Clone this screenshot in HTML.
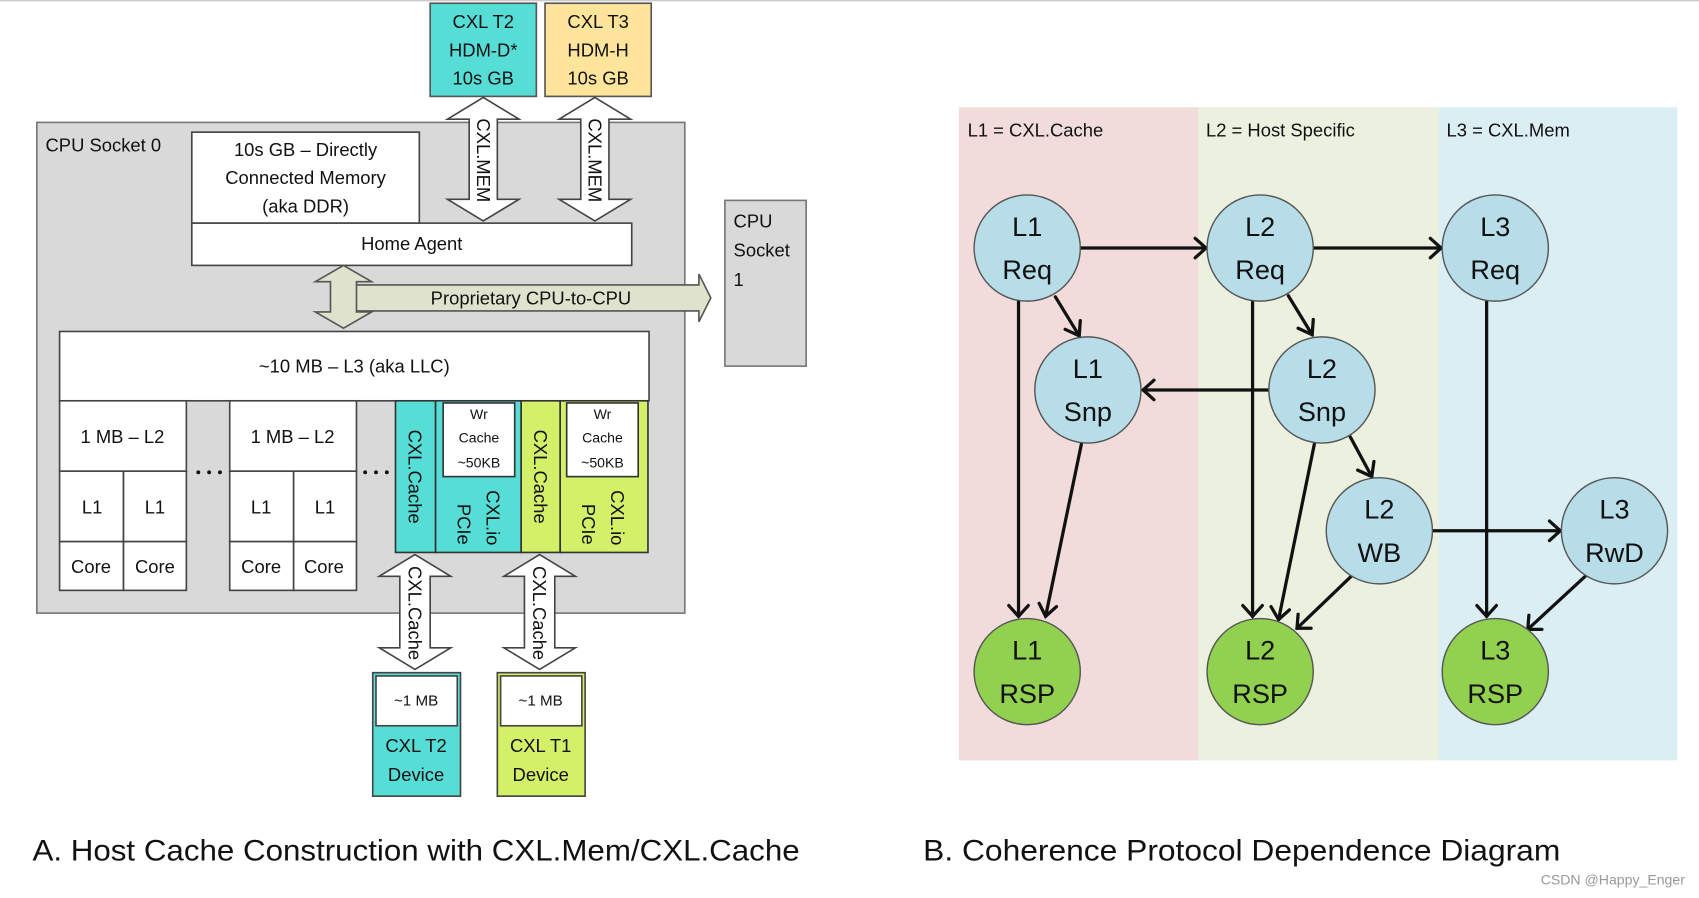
<!DOCTYPE html>
<html><head><meta charset="utf-8"><style>
html,body{margin:0;padding:0;background:#fff;width:1699px;height:898px;overflow:hidden}
svg{display:block}
text{font-family:"Liberation Sans",sans-serif;fill:#111}
</style></head><body>
<svg width="1699" height="898" viewBox="0 0 1568 829" preserveAspectRatio="none" xmlns="http://www.w3.org/2000/svg">
<line x1="0" y1="0.5" x2="1568" y2="0.5" stroke="#ccc" stroke-width="1.5"/>
<rect x="397" y="3" width="98" height="86" fill="#55ddd6" stroke="#555" stroke-width="1.5"/>
<rect x="503" y="3" width="98" height="86" fill="#ffe59c" stroke="#555" stroke-width="1.5"/>
<g font-size="17" text-anchor="middle" dominant-baseline="central">
<text x="446" y="20">CXL T2</text><text x="446" y="46">HDM-D*</text><text x="446" y="72">10s GB</text>
<text x="552" y="20">CXL T3</text><text x="552" y="46">HDM-H</text><text x="552" y="72">10s GB</text>
</g>
<rect x="34" y="113" width="598" height="453" fill="#d9d9d9" stroke="#777" stroke-width="1.5"/>
<text x="42" y="134" font-size="17" dominant-baseline="central">CPU Socket 0</text>
<rect x="177" y="122" width="210" height="84" fill="#fff" stroke="#444" stroke-width="1.5"/>
<g font-size="17" text-anchor="middle" dominant-baseline="central">
<text x="282" y="138">10s GB – Directly</text><text x="282" y="164">Connected Memory</text><text x="282" y="190">(aka DDR)</text>
</g>
<rect x="177" y="206" width="406" height="39" fill="#fff" stroke="#444" stroke-width="1.5"/>
<text x="380" y="225" font-size="17" text-anchor="middle" dominant-baseline="central">Home Agent</text>
<path d="M446 90 L479 110 L459 110 L459 184 L479 184 L446 204 L413 184 L433 184 L433 110 L413 110 Z" fill="#fff" stroke="#444" stroke-width="1.5"/>
<path d="M549 90 L582 110 L562 110 L562 184 L582 184 L549 204 L516 184 L536 184 L536 110 L516 110 Z" fill="#fff" stroke="#444" stroke-width="1.5"/>
<text transform="translate(446 148) rotate(90)" font-size="17" text-anchor="middle" dominant-baseline="central">CXL.MEM</text>
<text transform="translate(549 148) rotate(90)" font-size="17" text-anchor="middle" dominant-baseline="central">CXL.MEM</text>
<path d="M328 263 L645 263 L645 253 L656 275 L645 297 L645 287 L328 287 Z" fill="#dfe3cd" stroke="#555" stroke-width="1.5"/>
<path d="M317 245 L343 260 L329 260 L329 288 L343 288 L317 303 L291 288 L305 288 L305 260 L291 260 Z" fill="#dfe3cd" stroke="#555" stroke-width="1.5"/>
<text x="490" y="275" font-size="17" text-anchor="middle" dominant-baseline="central">Proprietary CPU-to-CPU</text>
<rect x="669" y="185" width="75" height="153" fill="#d9d9d9" stroke="#777" stroke-width="1.5"/>
<g font-size="17" dominant-baseline="central"><text x="677" y="204">CPU</text><text x="677" y="231">Socket</text><text x="677" y="258">1</text></g>
<rect x="55" y="306" width="544" height="64" fill="#fff" stroke="#444" stroke-width="1.5"/>
<text x="327" y="338" font-size="17" text-anchor="middle" dominant-baseline="central">~10 MB – L3 (aka LLC)</text>
<g fill="#fff" stroke="#444" stroke-width="1.5">
<rect x="55" y="370" width="117" height="65"/><rect x="55" y="435" width="59" height="65"/><rect x="114" y="435" width="58" height="65"/><rect x="55" y="500" width="59" height="45"/><rect x="114" y="500" width="58" height="45"/>
<rect x="212" y="370" width="117" height="65"/><rect x="212" y="435" width="59" height="65"/><rect x="271" y="435" width="58" height="65"/><rect x="212" y="500" width="59" height="45"/><rect x="271" y="500" width="58" height="45"/>
</g>
<g font-size="17" text-anchor="middle" dominant-baseline="central">
<text x="113" y="403">1 MB – L2</text><text x="85" y="468">L1</text><text x="143" y="468">L1</text><text x="84" y="523">Core</text><text x="143" y="523">Core</text>
<text x="270" y="403">1 MB – L2</text><text x="241" y="468">L1</text><text x="300" y="468">L1</text><text x="241" y="523">Core</text><text x="299" y="523">Core</text>
</g>
<g fill="#111"><circle cx="183" cy="436" r="1.8"/><circle cx="193" cy="436" r="1.8"/><circle cx="203" cy="436" r="1.8"/><circle cx="337" cy="436" r="1.8"/><circle cx="347" cy="436" r="1.8"/><circle cx="357" cy="436" r="1.8"/></g>
<g stroke="#333" stroke-width="1.5">
<rect x="365" y="370" width="37" height="140" fill="#55ddd6"/>
<rect x="402" y="370" width="79" height="140" fill="#55ddd6"/>
<rect x="481" y="370" width="36" height="140" fill="#d4ef68"/>
<rect x="517" y="370" width="81" height="140" fill="#d4ef68"/>
<rect x="409" y="372" width="66" height="68" fill="#fff"/>
<rect x="523" y="372" width="66" height="68" fill="#fff"/>
</g>
<g font-size="13" text-anchor="middle" dominant-baseline="central">
<text x="442" y="382">Wr</text><text x="442" y="404">Cache</text><text x="442" y="427">~50KB</text>
<text x="556" y="382">Wr</text><text x="556" y="404">Cache</text><text x="556" y="427">~50KB</text>
</g>
<g font-size="17" text-anchor="middle" dominant-baseline="central">
<text transform="translate(383 440) rotate(90)">CXL.Cache</text>
<text transform="translate(499 440) rotate(90)">CXL.Cache</text>
<text transform="translate(455 478) rotate(90)">CXL.io</text>
<text transform="translate(428 484) rotate(90)">PCIe</text>
<text transform="translate(570 478) rotate(90)">CXL.io</text>
<text transform="translate(543 484) rotate(90)">PCIe</text>
</g>
<path d="M383 512 L416 532 L397 532 L397 598 L416 598 L383 618 L350 598 L369 598 L369 532 L350 532 Z" fill="#fff" stroke="#444" stroke-width="1.5"/>
<path d="M498 512 L531 532 L512 532 L512 598 L531 598 L498 618 L465 598 L484 598 L484 532 L465 532 Z" fill="#fff" stroke="#444" stroke-width="1.5"/>
<text transform="translate(383 566) rotate(90)" font-size="17" text-anchor="middle" dominant-baseline="central">CXL.Cache</text>
<text transform="translate(498 566) rotate(90)" font-size="17" text-anchor="middle" dominant-baseline="central">CXL.Cache</text>
<rect x="344" y="621" width="81" height="114" fill="#55ddd6" stroke="#444" stroke-width="1.5"/>
<rect x="459" y="621" width="81" height="114" fill="#d4ef68" stroke="#444" stroke-width="1.5"/>
<rect x="347" y="624" width="75" height="46" fill="#fff" stroke="#444" stroke-width="1.5"/>
<rect x="462" y="624" width="75" height="46" fill="#fff" stroke="#444" stroke-width="1.5"/>
<g font-size="17" text-anchor="middle" dominant-baseline="central">
<text x="384" y="647" font-size="14">~1 MB</text><text x="384" y="688">CXL T2</text><text x="384" y="715">Device</text>
<text x="499" y="647" font-size="14">~1 MB</text><text x="499" y="688">CXL T1</text><text x="499" y="715">Device</text>
</g>
<text x="30" y="786" font-size="27" dominant-baseline="central" textLength="708" lengthAdjust="spacingAndGlyphs">A. Host Cache Construction with CXL.Mem/CXL.Cache</text>
<rect x="885" y="99" width="221" height="603" fill="#f2dcdb"/>
<rect x="1106" y="99" width="222" height="603" fill="#ebf1de"/>
<rect x="1328" y="99" width="220" height="603" fill="#dbeef4"/>
<g font-size="17" dominant-baseline="central">
<text x="893" y="120">L1 = CXL.Cache</text><text x="1113" y="120">L2 = Host Specific</text><text x="1335" y="120">L3 = CXL.Mem</text>
</g>
<g stroke="#111" stroke-width="3" fill="none" stroke-linecap="round">
<line x1="997" y1="229" x2="1113" y2="229"/><polyline points="1103,220 1113,229 1103,238"/>
<line x1="1212" y1="229" x2="1330" y2="229"/><polyline points="1320,220 1330,229 1320,238"/>
<line x1="940" y1="278" x2="940" y2="569"/><polyline points="931,559 940,569 949,559"/>
<line x1="974" y1="274" x2="996" y2="310"/><polyline points="983,304 996,310 997,296"/>
<line x1="998" y1="410" x2="965" y2="569"/><polyline points="959,557 965,569 975,560"/>
<line x1="1172" y1="360" x2="1055" y2="360"/><polyline points="1065,351 1055,360 1065,369"/>
<line x1="1189" y1="273" x2="1211" y2="309"/><polyline points="1198,303 1211,309 1212,295"/>
<line x1="1156" y1="278" x2="1156" y2="569"/><polyline points="1147,559 1156,569 1165,559"/>
<line x1="1213" y1="410" x2="1180" y2="572"/><polyline points="1173,560 1180,572 1190,563"/>
<line x1="1246" y1="403" x2="1266" y2="440"/><polyline points="1253,434 1266,440 1268,426"/>
<line x1="1247" y1="532" x2="1197" y2="580"/><polyline points="1198,567 1197,580 1210,580"/>
<line x1="1322" y1="490" x2="1440" y2="490"/><polyline points="1430,481 1440,490 1430,499"/>
<line x1="1372" y1="278" x2="1372" y2="569"/><polyline points="1363,559 1372,569 1381,559"/>
<line x1="1463" y1="532" x2="1410" y2="581"/><polyline points="1411,568 1410,581 1423,581"/>
</g>
<g stroke="#555" stroke-width="1.3">
<circle cx="948" cy="229" r="49" fill="#b7dde8"/><circle cx="1004" cy="360" r="49" fill="#b7dde8"/><circle cx="948" cy="620" r="49" fill="#92d050"/>
<circle cx="1163" cy="229" r="49" fill="#b7dde8"/><circle cx="1220" cy="360" r="49" fill="#b7dde8"/><circle cx="1273" cy="490" r="49" fill="#b7dde8"/><circle cx="1163" cy="620" r="49" fill="#92d050"/>
<circle cx="1380" cy="229" r="49" fill="#b7dde8"/><circle cx="1490" cy="490" r="49" fill="#b7dde8"/><circle cx="1380" cy="620" r="49" fill="#92d050"/>
</g>
<g font-size="25" text-anchor="middle" dominant-baseline="central">
<text x="948" y="209">L1</text><text x="948" y="249">Req</text>
<text x="1004" y="340">L1</text><text x="1004" y="380">Snp</text>
<text x="948" y="600">L1</text><text x="948" y="640">RSP</text>
<text x="1163" y="209">L2</text><text x="1163" y="249">Req</text>
<text x="1220" y="340">L2</text><text x="1220" y="380">Snp</text>
<text x="1273" y="470">L2</text><text x="1273" y="510">WB</text>
<text x="1163" y="600">L2</text><text x="1163" y="640">RSP</text>
<text x="1380" y="209">L3</text><text x="1380" y="249">Req</text>
<text x="1490" y="470">L3</text><text x="1490" y="510">RwD</text>
<text x="1380" y="600">L3</text><text x="1380" y="640">RSP</text>
</g>
<text x="852" y="786" font-size="27" dominant-baseline="central" textLength="588" lengthAdjust="spacingAndGlyphs">B. Coherence Protocol Dependence Diagram</text>
<text x="1555" y="812" font-size="13" text-anchor="end" dominant-baseline="central" style="fill:#999">CSDN @Happy_Enger</text>
</svg>
</body></html>
